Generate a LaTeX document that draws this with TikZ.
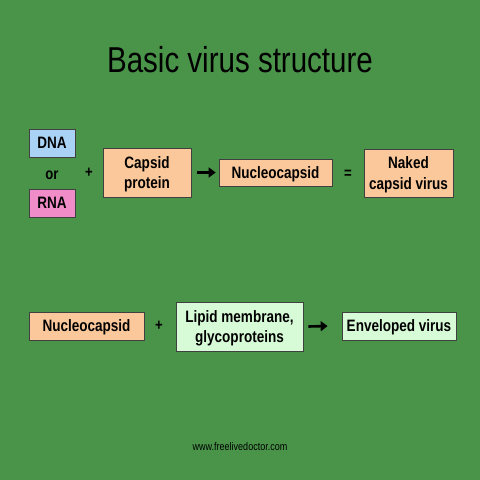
\documentclass[tikz,border=0pt]{standalone}
\usepackage{fontspec}
\setmainfont[FakeStretch=0.82]{Liberation Sans}
\usetikzlibrary{arrows.meta}
\definecolor{bg}{RGB}{74,148,74}
\definecolor{blueb}{RGB}{170,210,245}
\definecolor{pinkb}{RGB}{240,140,200}
\definecolor{peach}{RGB}{250,200,155}
\definecolor{mint}{RGB}{215,250,215}
\tikzset{
  box/.style={draw=black!75, line width=0.7pt, align=center, inner sep=0pt, text depth=0pt, font=\fontsize{16.5}{20.5}\selectfont\bfseries},
  sym/.style={font=\fontsize{16}{18}\selectfont\bfseries},
  arr/.style={line width=2.6pt, -{Triangle[length=7pt,width=10pt]}},
}
\begin{document}
\begin{tikzpicture}[x=1pt,y=-1pt]
\fill[bg] (0,0) rectangle (480,480);
\useasboundingbox (0,0) rectangle (480,480);
\node[font=\fontsize{36}{40}\selectfont] (title) at (240,60) {Basic virus structure};
% row 1
\node[box, fill=blueb, minimum width=46pt, minimum height=28pt] (dna) at (52,143) {DNA};
\node[sym] (or) at (52,175) {or};
\node[box, fill=pinkb, minimum width=46pt, minimum height=28pt] (rna) at (52,203) {RNA};
\node[sym] (plus1) at (89,173) {+};
\node[box, fill=peach, minimum width=88pt, minimum height=49pt] (cap) at (147,172.5) {Capsid\\protein};
\node[box, fill=peach, minimum width=113pt, minimum height=27pt] (nuc1) at (275.5,172.5) {Nucleocapsid};
\node[sym] (eq) at (348,174) {=};
\node[box, fill=peach, minimum width=89pt, minimum height=48pt] (naked) at (408.5,173) {Naked\\capsid virus};
\draw[arr] ([xshift=6pt]cap.east) -- ([xshift=-3pt]nuc1.west);
% row 2
\node[box, fill=peach, minimum width=115pt, minimum height=28pt] (nuc2) at (86.5,326) {Nucleocapsid};
\node[sym] (plus2) at (159,326) {+};
\node[box, fill=mint, minimum width=127pt, minimum height=49pt] (lipid) at (239.5,326.5) {Lipid membrane,\\glycoproteins};
\node[box, fill=mint, minimum width=114pt, minimum height=28pt] (env) at (399,326) {Enveloped virus};
\draw[arr] ([xshift=5pt]lipid.east) -- ([xshift=-14pt]env.west);
\node[font=\fontsize{11}{12}\selectfont] (foot) at (240,447) {www.freelivedoctor.com};
\end{tikzpicture}
\end{document}
